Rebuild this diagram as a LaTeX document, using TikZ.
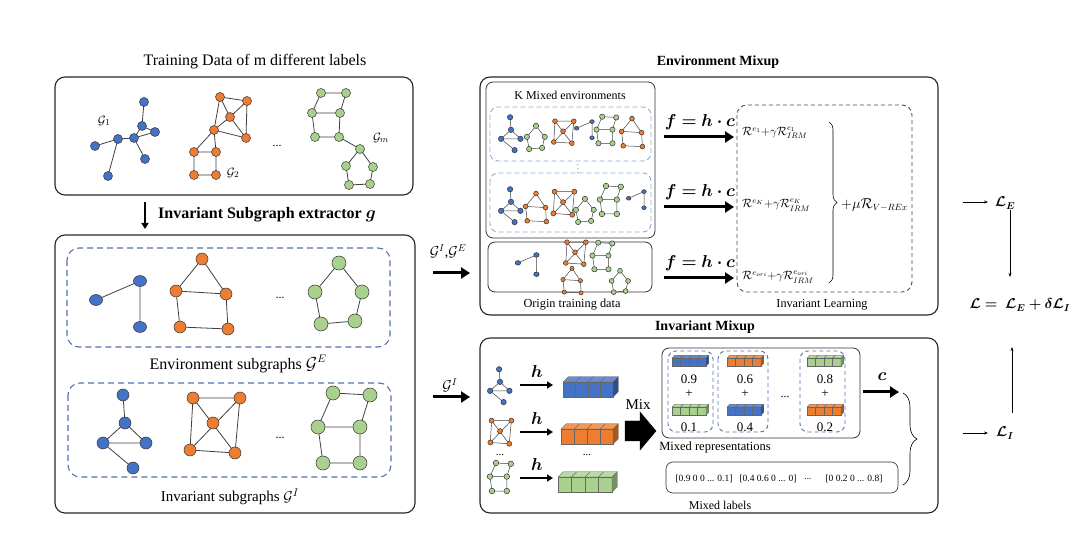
\documentclass[tikz,border=0pt]{standalone}
\usepackage{amsmath,bm}
\usepackage{fontspec}
\setmainfont{Liberation Serif}
\usetikzlibrary{decorations.pathreplacing,arrows.meta}
\definecolor{gblue}{HTML}{4472C4}
\definecolor{gorange}{HTML}{ED7D31}
\definecolor{ggreen}{HTML}{A9D18E}
\definecolor{dblue}{HTML}{5470B0}
\definecolor{lblue}{HTML}{8EA9DB}
\newcommand\fs[1]{\fontsize{#1}{#1}\selectfont}
\tikzset{
  ew/.initial=0.8pt,
  gedge/.style={draw=black!75,line width=\pgfkeysvalueof{/tikz/ew}},
  gnd/.style={draw=black!80,line width=0.5pt},
  box/.style={draw=black!85,line width=1.1pt,rounded corners=10pt},
  sbox/.style={draw=black!80,line width=0.8pt,rounded corners=7pt},
  dbox/.style={draw=dblue,line width=1.1pt,dash pattern=on 6pt off 4pt,rounded corners=12pt},
  lbox/.style={draw=lblue,line width=0.9pt,dash pattern=on 5pt off 3pt,rounded corners=8pt},
  gbox/.style={draw=black!70,line width=0.9pt,dash pattern=on 4pt off 3pt,rounded corners=10pt},
  fat/.style={-{Triangle[length=9pt,width=11pt]},line width=3pt},
  thin/.style={-{Stealth[length=4pt]},line width=0.6pt},
  txt/.style={inner sep=0},
  pics/blueI/.style={code={
    \coordinate (a) at (-2,-35); \coordinate (b) at (0,-7); \coordinate (c) at (-22,13);
    \coordinate (d) at (21,13); \coordinate (e) at (8,38);
    \draw[gedge] (a)--(b) (b)--(c) (b)--(d) (c)--(d) (c)--(e);
    \foreach \p in {a,b,c,d,e} \filldraw[gnd,fill=gblue] (\p) circle (6);}},
  pics/orangeW/.style={code={
    \coordinate (a) at (-20,-27); \coordinate (b) at (27,-27); \coordinate (c) at (-23,25);
    \coordinate (d) at (22,28); \coordinate (e) at (0,-2);
    \draw[gedge] (a)--(b)--(d)--(c)--cycle (a)--(d) (b)--(c);
    \foreach \p in {a,b,c,d,e} \filldraw[gnd,fill=gorange] (\p) circle (6);}},
  pics/greenH/.style={code={
    \coordinate (a) at (-10,-35); \coordinate (b) at (27,-33); \coordinate (c) at (-25,-1);
    \coordinate (d) at (17,-1); \coordinate (e) at (-20,35); \coordinate (f) at (17,35);
    \draw[gedge] (a)--(b)--(d)--(c)--cycle (c)--(e)--(f)--(d);
    \foreach \p in {a,b,c,d,e,f} \filldraw[gnd,fill=ggreen] (\p) circle (7);}},
  pics/blueE/.style={code={
    \coordinate (a) at (-24,-5); \coordinate (b) at (20,-24); \coordinate (c) at (20,22);
    \draw[gedge] (a)--(b)--(c);
    \foreach \p in {a,b,c} \filldraw[gnd,fill=gblue] (\p) ellipse (6.5 and 5.5);}},
  pics/orangeE/.style={code={
    \coordinate (a) at (0,-36); \coordinate (b) at (-26,-4); \coordinate (c) at (24,-1);
    \coordinate (d) at (-22,32); \coordinate (e) at (26,34);
    \draw[gedge] (b)--(a)--(c)--(b)--(d)--(e)--(c);
    \foreach \p in {a,b,c,d,e} \filldraw[gnd,fill=gorange] (\p) circle (6);}},
  pics/greenE/.style={code={
    \coordinate (a) at (0,-32); \coordinate (b) at (-24,-3); \coordinate (c) at (23,-3);
    \coordinate (d) at (-18,29); \coordinate (e) at (16,26);
    \draw[gedge] (a)--(b)--(d)--(e)--(c)--cycle;
    \foreach \p in {a,b,c,d,e} \filldraw[gnd,fill=ggreen] (\p) circle (7);}},
  pics/bar/.style n args={3}{code={
    \pgfmathsetmacro\dd{0.35*#3}
    \foreach \i in {0,...,3}{
      \filldraw[fill=#1,draw=black!60,line width=0.35pt] (\i*#2,0) rectangle ++(#2,#3);
      \filldraw[fill=#1!80!white,draw=black!60,line width=0.35pt] (\i*#2,0) -- ++(\dd,-\dd) -- ++(#2,0) -- ++(-\dd,\dd) -- cycle;}
    \filldraw[fill=#1!70!black,draw=black!60,line width=0.35pt] (4*#2,0) -- ++(\dd,-\dd) -- ++(0,#3) -- ++(-\dd,\dd) -- cycle;}},
}
\begin{document}
\begin{tikzpicture}[x=1pt,y=-1pt]
\useasboundingbox (0,0) rectangle (1080,537);
% ---------- Left top
\node[txt,font=\fs{16}] (t1) at (255,62) {Training Data of m different labels};
\draw[box] (55,77) rectangle (413,195);
\coordinate (q1) at (144,102); \coordinate (q2) at (142,126); \coordinate (q3) at (155,132);
\coordinate (q4) at (134,138); \coordinate (q5) at (118,139); \coordinate (q6) at (95,146);
\coordinate (q7) at (145,159); \coordinate (q8) at (108,176);
\draw[gedge] (q1)--(q2) (q2)--(q4) (q2)--(q3) (q4)--(q3) (q4)--(q5)--(q6) (q5)--(q8) (q4)--(q7);
\foreach \p in {1,...,8} \filldraw[gnd,fill=gblue] (q\p) circle (4.5);
\node[txt,font=\fs{13}] (g1) at (104,121) {$\mathcal{G}_1$};
\coordinate (r1) at (220,97); \coordinate (r2) at (247,101); \coordinate (r3) at (230,117);
\coordinate (r4) at (214,130); \coordinate (r5) at (246,138); \coordinate (r6) at (194,152);
\coordinate (r7) at (216,152); \coordinate (r8) at (194,175); \coordinate (r9) at (216,175);
\draw[gedge] (r1)--(r2) (r1)--(r3) (r1)--(r4) (r2)--(r3) (r2)--(r5) (r3)--(r4) (r3)--(r5) (r4)--(r5)
  (r4)--(r6) (r4)--(r7) (r6)--(r7)--(r9)--(r8)--(r6);
\foreach \p in {1,...,9} \filldraw[gnd,fill=gorange] (r\p) circle (4.5);
\node[txt,font=\fs{13}] (g2) at (233,173) {$\mathcal{G}_2$};
\node[txt,font=\fs{12}] (d1) at (277,146) {...};
\coordinate (s1) at (321,93); \coordinate (s2) at (346,93); \coordinate (s3) at (312,113);
\coordinate (s4) at (340,113); \coordinate (s5) at (315,137); \coordinate (s6) at (339,137);
\coordinate (s7) at (360,149); \coordinate (s8) at (346,166); \coordinate (s9) at (373,167);
\coordinate (s10) at (349,185); \coordinate (s11) at (370,184);
\draw[gedge] (s1)--(s2)--(s4)--(s3)--(s1) (s3)--(s5)--(s6)--(s4) (s6)--(s7)--(s8)--(s10)--(s11)--(s9)--(s7);
\foreach \p in {1,...,11} \filldraw[gnd,fill=ggreen] (s\p) circle (4.5);
\node[txt,font=\fs{13}] (gm) at (381,138) {$\mathcal{G}_m$};
\coordinate (ex1) at (145,202); \coordinate (ex2) at (145,229);
\draw[-{Triangle[length=6pt,width=7pt]},line width=2pt] (ex1)--(ex2);
\node[txt,font=\fs{16},anchor=west] (ext) at (158,215) {\textbf{Invariant Subgraph extractor} $\bm{g}$};
% ---------- Left bottom
\draw[box] (55,235) rectangle (415,513);
\draw[dbox] (67,248) rectangle (390,347);
\draw[dbox] (68,383) rectangle (391,477);
\pic at (120,305) {blueE};
\pic at (202,295) {orangeE};
\node[txt,font=\fs{12}] (d2) at (280,298) {...};
\pic at (339,295) {greenE};
\node[txt,font=\fs{16}] (le) at (238,364) {Environment subgraphs $\mathcal{G}^E$};
\pic at (125,430) {blueI};
\pic at (213,425) {orangeW};
\node[txt,font=\fs{12}] (d3) at (280,438) {...};
\pic at (343,428) {greenH};
\node[txt,font=\fs{15}] (li) at (230,497) {Invariant subgraphs $\mathcal{G}^I$};
% middle arrows
\coordinate (ma1) at (433,273); \coordinate (ma2) at (470,273);
\draw[fat] (ma1)--(ma2);
\node[txt,font=\fs{14}] (mal) at (448,252) {$\mathcal{G}^I$,$\mathcal{G}^E$};
\coordinate (mb1) at (433,397); \coordinate (mb2) at (470,397);
\draw[fat] (mb1)--(mb2);
\node[txt,font=\fs{14}] (mbl) at (450,385) {$\mathcal{G}^I$};
% ---------- Environment Mixup
\node[txt,font=\fs{14}] (et) at (718,62) {\textbf{Environment Mixup}};
\draw[box] (480,77) rectangle (938,315);
\draw[sbox] (486,82) rectangle (655,238);
\node[txt,font=\fs{12}] (km) at (570,95) {K Mixed environments};
\draw[lbox] (490,107) rectangle (651,161);
\draw[lbox] (490,173) rectangle (651,232);
\node[txt,font=\fs{7}] (vd) at (578,166) {$\vdots$};
\draw[sbox] (488,242) rectangle (652,292);
\node[txt,font=\fs{12.3}] (otd) at (572,305) {Origin training data};
\begin{scope}[ew=0.5pt]
\pic[scale=0.45] at (511,133) {blueI};
\pic[scale=0.38] at (536,138) {greenE};
\pic[scale=0.4] at (563,132) {orangeW};
\pic[scale=0.35] at (585,130) {blueE};
\pic[scale=0.38] at (606,130) {greenH};
\pic[scale=0.4] at (632,133) {orangeE};
\pic[scale=0.45] at (511,205) {blueI};
\pic[scale=0.4] at (536,208) {orangeE};
\pic[scale=0.42] at (563,203) {orangeW};
\pic[scale=0.38] at (585,211) {greenE};
\pic[scale=0.4] at (610,200) {greenH};
\pic[scale=0.35] at (637,200) {blueE};
\pic[scale=0.42] at (528,265) {blueE};
\pic[scale=0.4] at (575,253) {orangeW};
\pic[scale=0.35] at (572,281) {orangeE};
\pic[scale=0.38] at (602,256) {greenH};
\pic[scale=0.35] at (620,282) {greenE};
\end{scope}
\foreach \y/\n in {137/1,207/2,278/3}{
  \coordinate (fa\n) at (664,\y); \coordinate (fb\n) at (734,\y);
  \draw[fat] (fa\n)--(fb\n);
  \node[txt,font=\fs{16}] (fl\n) at (700,\y-15) {$\bm{f=h\cdot c}$};}
\draw[gbox] (737,105) rectangle (912,292);
\node[txt,font=\fs{12.2}] (il) at (822,305) {Invariant Learning};
\node[txt,font=\fs{12},anchor=west] (r1) at (742,133) {$\mathcal{R}^{e_1}{+}\gamma\mathcal{R}^{e_1}_{IRM}$};
\node[txt,font=\fs{12},anchor=west] (r2) at (742,205) {$\mathcal{R}^{e_K}{+}\gamma\mathcal{R}^{e_K}_{IRM}$};
\node[txt,font=\fs{12},anchor=west] (r3) at (742,277) {$\mathcal{R}^{e_{ori}}{+}\gamma\mathcal{R}^{e_{ori}}_{IRM}$};
\coordinate (br1) at (829,122); \coordinate (br2) at (829,283);
\draw[decorate,decoration={brace,amplitude=8pt},line width=0.6pt] (br1)--(br2);
\node[txt,font=\fs{13.5},anchor=west] (mu) at (841,205) {$+\mu\mathcal{R}_{V-REx}$};
% ---------- Invariant Mixup
\node[txt,font=\fs{14}] (imt) at (705,327) {\textbf{Invariant Mixup}};
\draw[box] (480,338) rectangle (938,513);
\begin{scope}[ew=0.5pt]
\pic[scale=0.45] at (500,385) {blueI};
\pic[scale=0.42] at (500,432) {orangeW};
\pic[scale=0.4] at (500,477) {greenH};
\end{scope}
\node[txt,font=\fs{11}] (dd1) at (500,455) {...};
\node[txt,font=\fs{11}] (dd2) at (587,455) {...};
\foreach \y/\n in {385/1,432/2,478/3}{
  \coordinate (ha\n) at (520,\y); \coordinate (hb\n) at (553,\y);
  \draw[-{Triangle[length=6pt,width=7pt]},line width=1.8pt] (ha\n)--(hb\n);
  \node[txt,font=\fs{16}] (hl\n) at (537,\y-13) {$\bm{h}$};}
\pic at (563,382) {bar={gblue}{12.5}{15}};
\pic at (561,429) {bar={gorange}{13}{15}};
\pic at (558,477) {bar={ggreen}{13.5}{15}};
\node[txt,font=\fs{15}] (mix) at (638,405) {Mix};
\filldraw[black] (625,421) -- (640,421) -- (640,412) -- (656,431) -- (640,450) -- (640,441) -- (625,441) -- cycle;
\draw[sbox] (662,348) rectangle (860,438);
\node[txt,font=\fs{12.5}] (mrl) at (715,447) {Mixed representations};
\foreach \xa/\xb in {668/713,718/768,800/845}
  \draw[dbox,line width=0.9pt,dash pattern=on 4pt off 3pt,rounded corners=8pt] (\xa,351) rectangle (\xb,432);
\pic at (672,358) {bar={gblue}{8.5}{8}};
\pic at (672,407) {bar={ggreen}{8.5}{8}};
\pic at (727,358) {bar={gorange}{8.5}{8}};
\pic at (727,407) {bar={gblue}{8.5}{8}};
\pic at (807,358) {bar={ggreen}{8.5}{8}};
\pic at (807,407) {bar={gorange}{8.5}{8}};
\node[txt,font=\fs{13}] (n1) at (689,379) {0.9}; \node[txt,font=\fs{13}] (p1) at (689,394) {+}; \node[txt,font=\fs{13}] (m1) at (689,427) {0.1};
\node[txt,font=\fs{13}] (n2) at (745,379) {0.6}; \node[txt,font=\fs{13}] (p2) at (745,394) {+}; \node[txt,font=\fs{13}] (m2) at (745,427) {0.4};
\node[txt,font=\fs{13}] (n3) at (825,379) {0.8}; \node[txt,font=\fs{13}] (p3) at (825,394) {+}; \node[txt,font=\fs{13}] (m3) at (825,427) {0.2};
\node[txt,font=\fs{12}] (dd3) at (785,397) {...};
\coordinate (ca) at (863,392); \coordinate (cb) at (899,392);
\draw[fat] (ca)--(cb);
\node[txt,font=\fs{16}] (cl) at (882,377) {$\bm{c}$};
\draw[sbox,line width=0.6pt] (666,462) rectangle (898,493);
\node[txt,font=\fs{9.5}] (ml1) at (704,479) {[0.9 0 0 ... 0.1]};
\node[txt,font=\fs{9.5}] (ml2) at (768,479) {[0.4 0.6 0 ... 0]};
\node[txt,font=\fs{9.5}] (ml3) at (808,479) {...};
\node[txt,font=\fs{9.5}] (ml4) at (854,479) {[0 0.2 0 ... 0.8]};
\node[txt,font=\fs{12}] (mll) at (720,505) {Mixed labels};
\coordinate (bb1) at (903,393); \coordinate (bb2) at (903,485);
\draw[decorate,decoration={brace,amplitude=14pt},line width=0.6pt] (bb1)--(bb2);
% ---------- Right losses
\node[txt,font=\fs{14}] (LE) at (1005,203) {$\bm{\mathcal{L}_E}$};
\node[txt,font=\fs{14}] (L) at (1020,305) {$\bm{\mathcal{L}=\ \mathcal{L}_E+\delta\mathcal{L}_I}$};
\node[txt,font=\fs{14}] (LI) at (1005,433) {$\bm{\mathcal{L}_I}$};
\coordinate (e1) at (963,202); \coordinate (e2) at (988,202);
\draw[thin] (e1)--(e2);
\coordinate (i1) at (963,433); \coordinate (i2) at (988,433);
\draw[thin] (i1)--(i2);
\coordinate (v1) at (1010,210); \coordinate (v2) at (1010,277);
\draw[thin] (v1)--(v2);
\coordinate (u1) at (1012,413); \coordinate (u2) at (1012,347);
\draw[thin] (u1)--(u2);
\end{tikzpicture}
\end{document}
